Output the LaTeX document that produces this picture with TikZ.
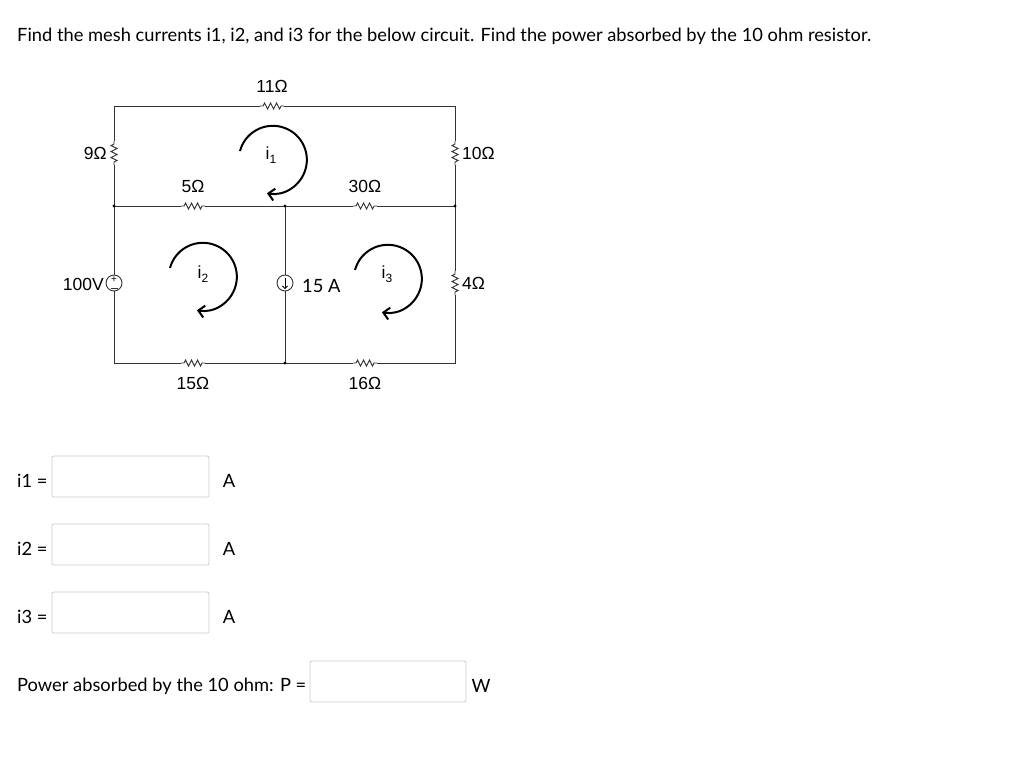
\documentclass[tikz,border=0pt]{standalone}
\usepackage{fontspec}
\setmainfont{Lato}
\newfontfamily\cfont{Liberation Sans}
\usetikzlibrary{arrows.meta}
\newcommand{\isub}[1]{i\raisebox{-3.5pt}{\fontsize{12}{12}\selectfont #1}}
\begin{document}
\begin{tikzpicture}[x=1pt,y=-1pt,
  wire/.style={line width=0.9pt,black!80},
  lbl/.style={font=\cfont\fontsize{17.5}{19}\selectfont,inner sep=1pt},
  qtxt/.style={font=\fontsize{18.3}{21}\selectfont,inner sep=0pt},
  ansbox/.style={draw=black!20,rounded corners=2pt,line width=0.8pt},
  loop/.style={line width=2pt,-{Straight Barb[length=6pt,width=12pt]}},
  hres/.pic={\draw[wire] (-12,0)--(-9,0)--(-7.5,-3)--(-4.5,3)--(-1.5,-3)--(1.5,3)--(4.5,-3)--(7.5,3)--(9,0)--(12,0);},
  vres/.pic={\draw[wire] (0,-12)--(0,-9)--(-3,-7.5)--(3,-4.5)--(-3,-1.5)--(3,1.5)--(-3,4.5)--(3,7.5)--(0,9)--(0,12);}]
\useasboundingbox (0,0) rectangle (1024,763);
\node[qtxt,anchor=west] (title) at (17,36) {Find the mesh currents i1, i2, and i3 for the below circuit. Find the power absorbed by the 10 ohm resistor.};
% wires
\draw[wire] (114,141)--(114,106)--(260,106) (284,106)--(455,106)--(455,141);
\draw[wire] (114,165)--(114,275) (114,291)--(114,363)--(181,363) (205,363)--(353,363) (377,363)--(455,363)--(455,295);
\draw[wire] (455,165)--(455,271);
\draw[wire] (114,206)--(181,206) (205,206)--(353,206) (377,206)--(455,206);
\draw[wire] (285,206)--(285,275) (285,291)--(285,363);
\pic at (272,106) {hres}; \pic at (193,206) {hres}; \pic at (365,206) {hres};
\pic at (193,363) {hres}; \pic at (365,363) {hres};
\pic at (114,153) {vres}; \pic at (455,153) {vres}; \pic at (455,283) {vres};
\foreach \p in {(114,206),(285,206),(455,206),(285,363)} \fill \p circle (1.6);
% sources
\draw[wire,fill=white] (114,283) circle (8);
\node[font=\cfont\fontsize{10}{10}\selectfont,inner sep=0pt] at (114,279.5) {+};
\draw[wire,line width=0.7pt] (110.5,288)--(117.5,288);
\draw[wire,fill=white] (285,283) circle (8);
\draw[line width=0.8pt,-{Straight Barb[length=2.5pt,width=5pt]}] (285,278)--(285,289);
\node[lbl,anchor=east] at (105,284) {100V};
\node[qtxt,anchor=west] at (302,286) {15 A};
\node[lbl] at (272,86) {11Ω};
\node[lbl,anchor=east] at (108,153) {9Ω};
\node[lbl,anchor=west] at (461,153) {10Ω};
\node[lbl,anchor=west] at (461,283) {4Ω};
\node[lbl] at (193,186) {5Ω};
\node[lbl] at (365,186) {30Ω};
\node[lbl] at (193,383) {15Ω};
\node[lbl] at (365,383) {16Ω};
\node[lbl] at (271,155) {\isub{1}};
\node[lbl] at (203,274) {\isub{2}};
\node[lbl] at (387,274) {\isub{3}};
% loops
\draw[loop] (240,151) arc[start angle=-165,end angle=100,radius=34];
\draw[loop] (170,268) arc[start angle=-165,end angle=100,radius=34];
\draw[loop] (355,270) arc[start angle=-165,end angle=100,radius=34];
% answers
\node[qtxt,anchor=west] at (17,481) {i1 =};
\draw[ansbox] (52,456) rectangle (209,497);
\node[qtxt] at (229,481) {A};
\node[qtxt,anchor=west] at (17,549) {i2 =};
\draw[ansbox] (52,524) rectangle (209,565);
\node[qtxt] at (229,549) {A};
\node[qtxt,anchor=west] at (17,617) {i3 =};
\draw[ansbox] (52,592) rectangle (209,633);
\node[qtxt] at (229,617) {A};
\node[qtxt,anchor=west] at (17,686) {Power absorbed by the 10 ohm: P =};
\draw[ansbox] (310,661) rectangle (466,702);
\node[qtxt] at (481,686) {W};
\end{tikzpicture}
\end{document}
